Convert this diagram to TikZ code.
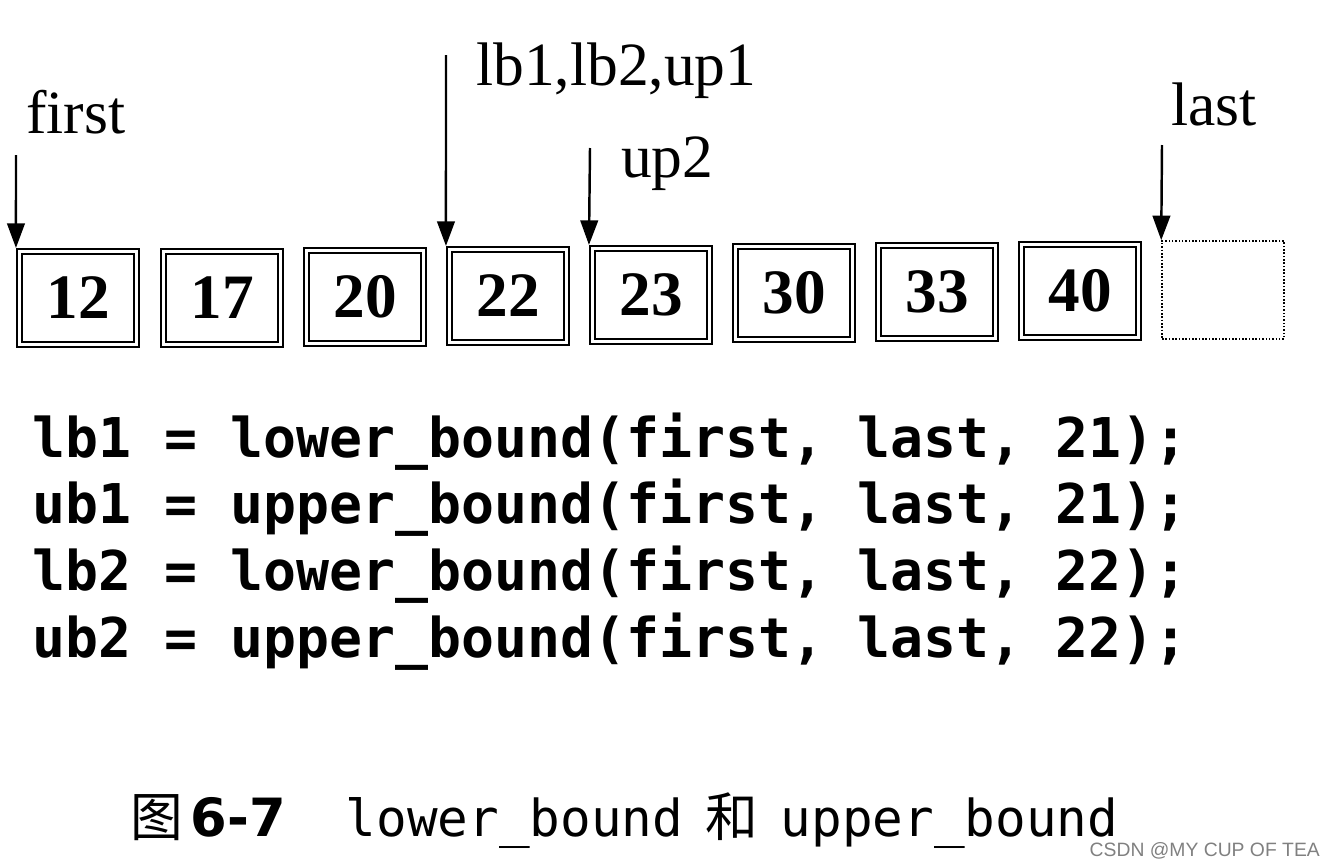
\documentclass[tikz,border=0pt]{standalone}
\usepackage{fontspec}
\setmainfont{Liberation Serif}
\newfontfamily\codefont{DejaVu Sans Mono}
\newfontfamily\capfont{DejaVu Sans}
\newfontfamily\cjk{Noto Sans CJK SC}
\newfontfamily\wmfont{Liberation Sans}
\usetikzlibrary{arrows.meta}
\begin{document}
\begin{tikzpicture}[x=0.02cm,y=-0.02cm,
  cell/.style={draw,line width=1.2pt,minimum width=2.44cm,minimum height=1.96cm,inner sep=0pt,
    font=\fontsize{36}{38}\selectfont\bfseries},
  inbox/.style={draw,line width=0.8pt,minimum width=2.24cm,minimum height=1.76cm},
  ptr/.style={-{Triangle[length=14pt,width=10pt]},line width=1.4pt},
  lab/.style={font=\fontsize{35}{38}\selectfont,anchor=base west},
  code/.style={font=\codefont\bfseries\fontsize{31.2}{34}\selectfont,anchor=base west}]
\useasboundingbox (0,0) rectangle (1342,866);
\foreach \n/\x/\y in {12/78/298,17/222/298,20/365/297,22/508/296,23/651/295,30/794/293,33/937/292,40/1080/291}{
  \node[inbox] at (\x,\y) {};
  \node[cell] (c\n) at (\x,\y) {\n};
}
\node[draw,densely dotted,line width=0.9pt,minimum width=2.44cm,minimum height=1.96cm] (cl) at (1223,290) {};
\coordinate (f0) at (16,155);
\coordinate (l0) at (446,55);
\coordinate (u0) at (590,148);
\coordinate (e0) at (1162,145);
\draw[ptr] (f0) -- (c12.north west);
\draw[ptr] (l0) -- (c22.north west);
\draw[ptr] (u0) -- (c23.north west);
\draw[ptr] (e0) -- (cl.north west);
\node[lab] (tf) at (20,133) {first};
\node[lab] (tl) at (470,85) {lb1,lb2,up1};
\node[lab] (tu) at (615,177) {up2};
\node[lab] (te) at (1165,125) {last};
\node[code] (k1) at (26,457) {lb1 = lower\_bound(first, last, 21);};
\node[code] (k2) at (26,523) {ub1 = upper\_bound(first, last, 21);};
\node[code] (k3) at (26,590) {lb2 = lower\_bound(first, last, 22);};
\node[code] (k4) at (26,657) {ub2 = upper\_bound(first, last, 22);};
\node[anchor=base west,inner sep=0pt] (cap) at (130,836) {{\cjk\fontsize{30}{32}\selectfont 图}\hspace{0.15cm}{\capfont\bfseries\fontsize{30}{32}\selectfont 6-7}\hspace{1.2cm}{\codefont\fontsize{29}{32}\selectfont lower\_bound}\hspace{0.45cm}{\cjk\fontsize{30}{32}\selectfont 和}\hspace{0.45cm}{\codefont\fontsize{29}{32}\selectfont upper\_bound}};
\node[anchor=base east,text=gray,font=\wmfont\fontsize{11}{12}\selectfont] (wm) at (1326,856) {CSDN @MY CUP OF TEA};
\end{tikzpicture}
\end{document}
